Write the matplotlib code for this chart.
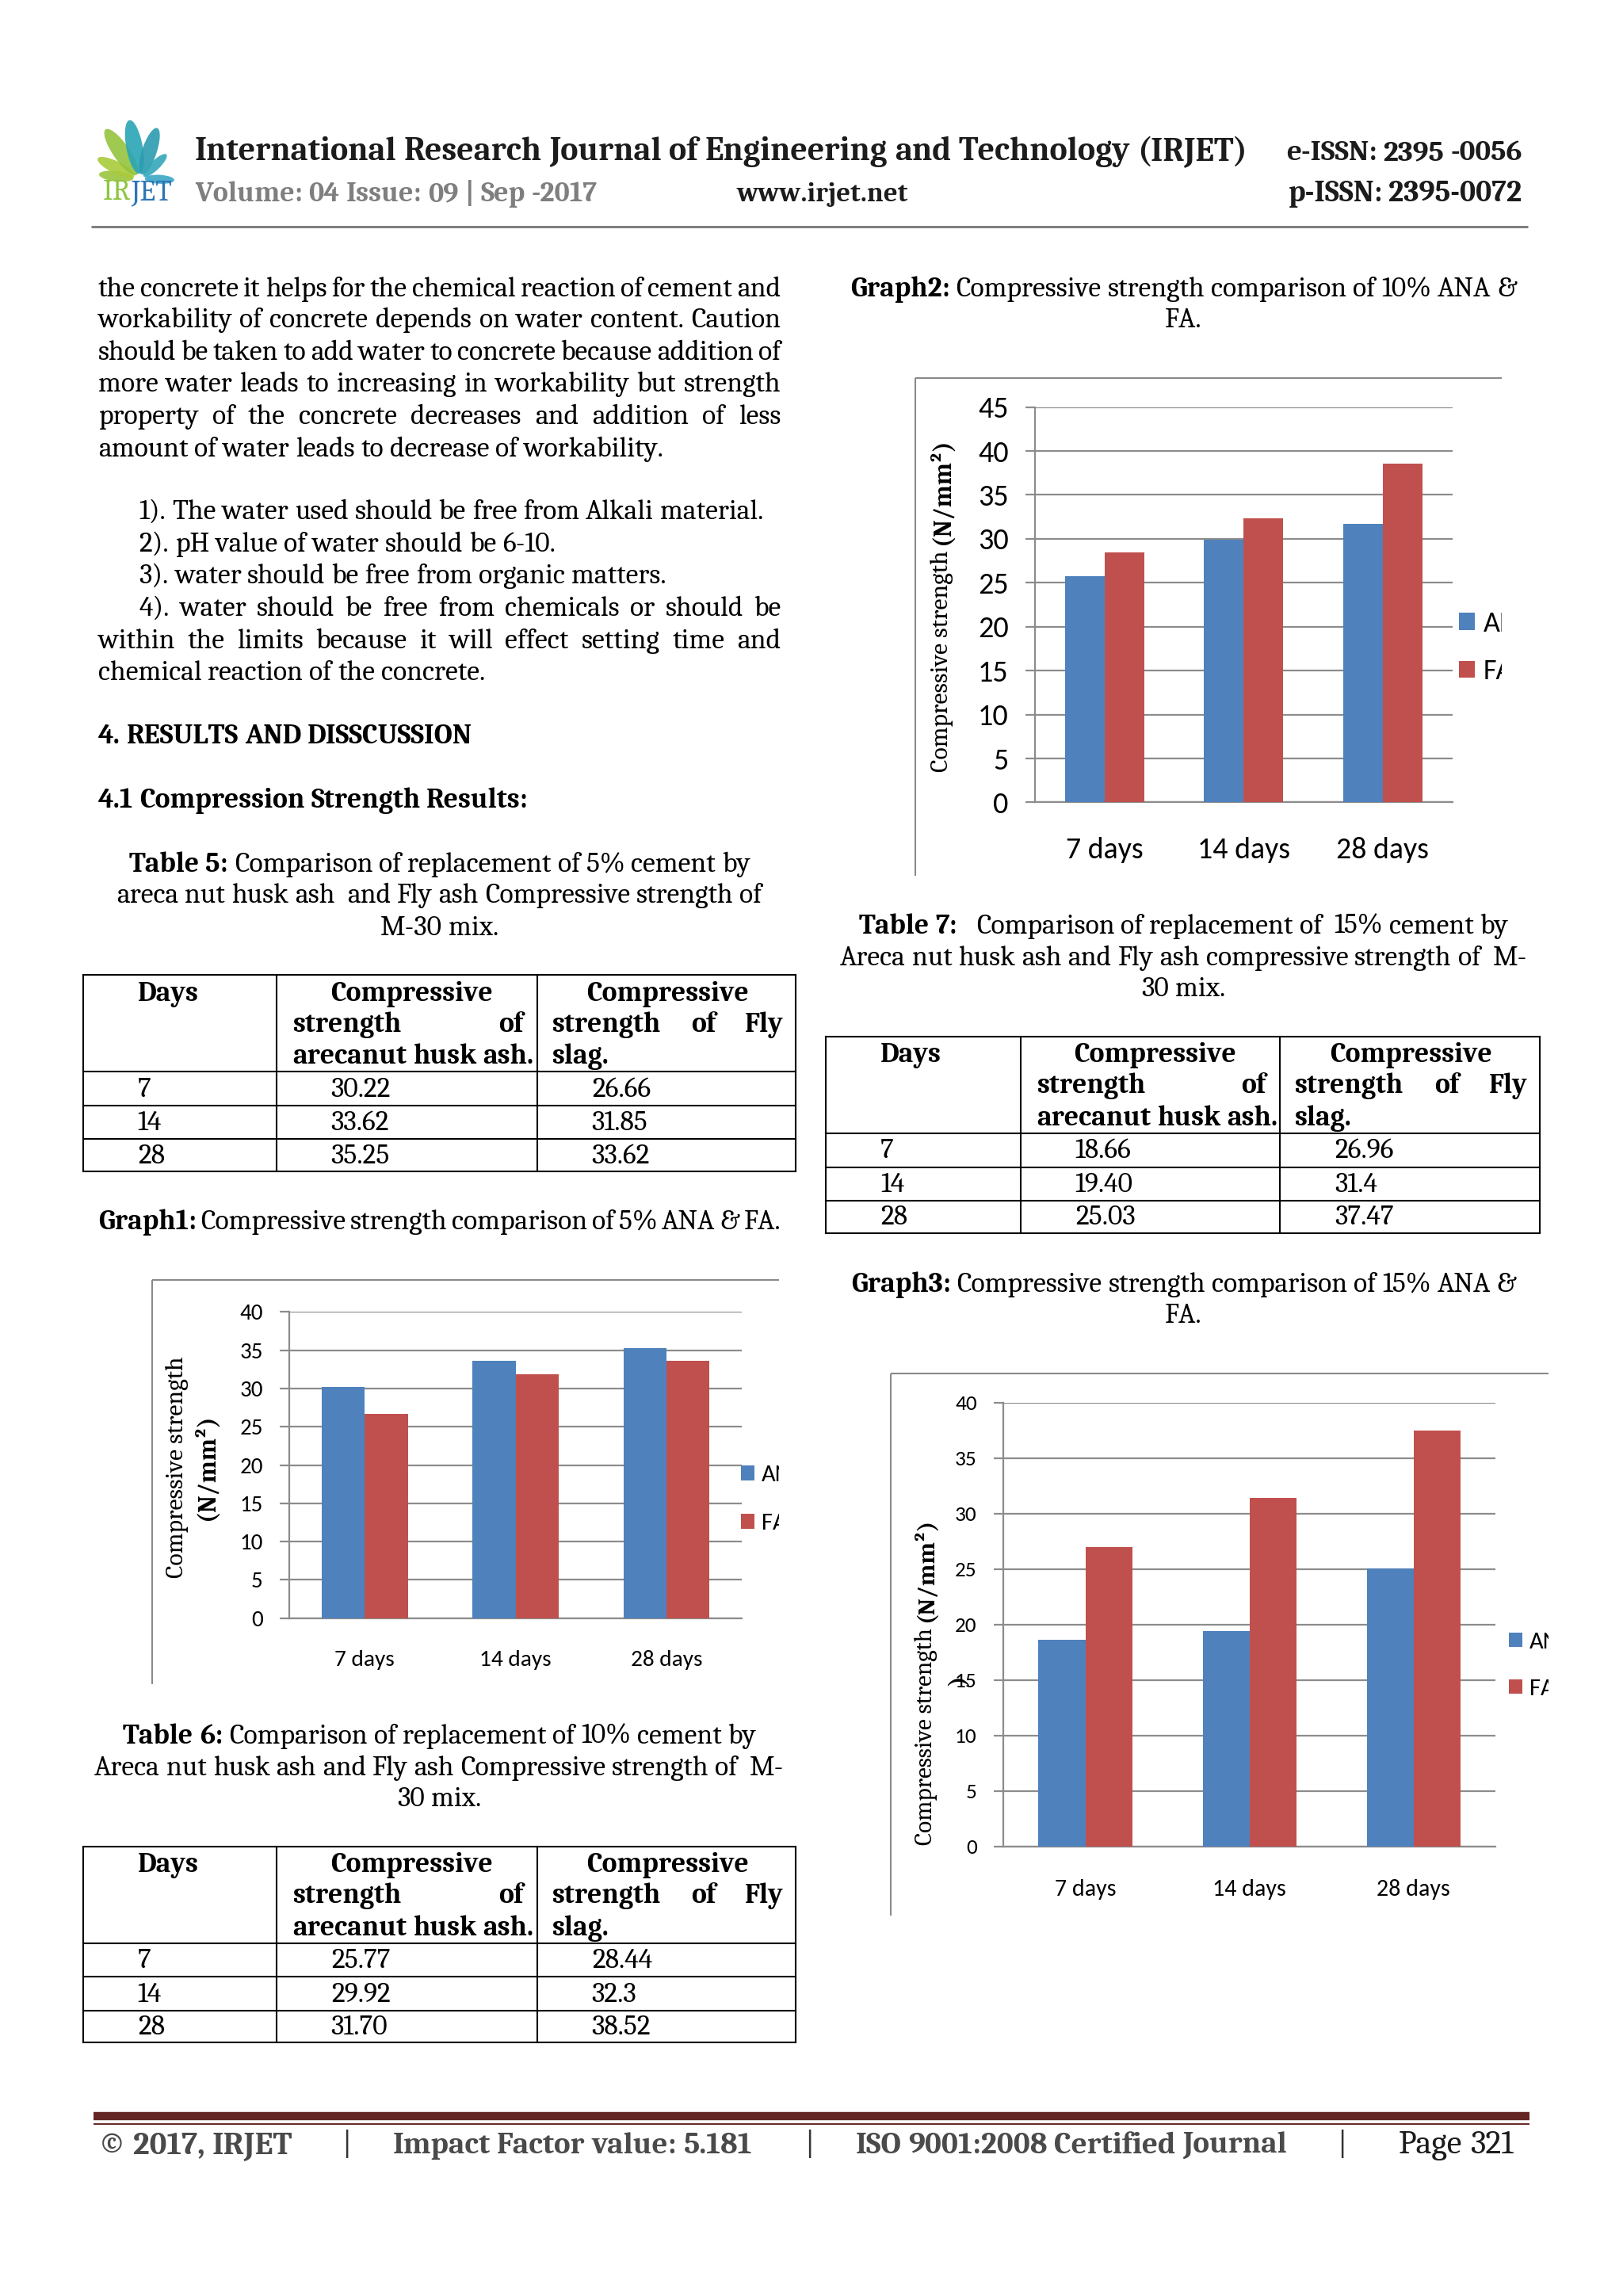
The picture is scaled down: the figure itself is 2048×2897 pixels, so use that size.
import numpy as np
import matplotlib
matplotlib.use("Agg")
import matplotlib.pyplot as plt
from matplotlib import font_manager
from matplotlib.patches import Ellipse
from matplotlib.transforms import Bbox

# ---------------- data ----------------
categories = ["7 days", "14 days", "28 days"]
series_names = ["ANA", "FA"]
table_days = ["7", "14", "28"]

t5_ana = ["30.22", "33.62", "35.25"]
t5_fa = ["26.66", "31.85", "33.62"]
t6_ana = ["25.77", "29.92", "31.70"]
t6_fa = ["28.44", "32.3", "38.52"]
t7_ana = ["18.66", "19.40", "25.03"]
t7_fa = ["26.96", "31.4", "37.47"]

g1_ticks = [0, 5, 10, 15, 20, 25, 30, 35, 40]
g2_ticks = [0, 5, 10, 15, 20, 25, 30, 35, 40, 45]
g3_ticks = [0, 5, 10, 15, 20, 25, 30, 35, 40]

BLUE = "#4F81BD"
RED = "#C0504D"
GRID = "#8C8C8C"

# ---------------- fonts ----------------
avail = {f.name for f in font_manager.fontManager.ttflist}
SERIF = next(f for f in ["Caladea", "Liberation Serif", "DejaVu Serif"] if f in avail)
SANS = next(f for f in ["Carlito", "Lato", "Open Sans", "DejaVu Sans"] if f in avail)
plt.rcParams["font.family"] = SANS

PW, PH = 1108.0, 1568.0
fig = plt.figure(figsize=(20.48, 28.97), dpi=100)
fig.patch.set_facecolor("white")
page = fig.add_axes([0, 0, 1, 1])
page.set_xlim(0, PW)
page.set_ylim(PH, 0)
page.axis("off")
R = fig.canvas.get_renderer()
SX = 2048.0 / PW

_cache = {}


def mw(s, size, weight="normal", family=None):
    family = family or SERIF
    key = (s, size, weight, family)
    if key not in _cache:
        t = page.text(0, 0, s, fontsize=size, fontweight=weight, family=family)
        _cache[key] = t.get_window_extent(renderer=R).width / SX
        t.remove()
    return _cache[key]


def space_w(size, weight, family):
    return mw("n n", size, weight, family) - mw("nn", size, weight, family)


def words_of(segs):
    out = []
    pending = 0
    for seg, wt in segs:
        for i, p in enumerate(seg.split(" ")):
            if i > 0:
                pending += 1
            if p == "":
                continue
            out.append((p, wt, pending if out else 0))
            pending = 0
    return out


def natural(segs, size, family=None):
    family = family or SERIF
    if isinstance(segs, str):
        segs = [(segs, "normal")]
    ws = words_of(segs)
    return sum(mw(w, size, wt, family) for w, wt, g in ws) + sum(g * space_w(size, wt, family) for w, wt, g in ws)


def fit(segs, target, family=None):
    return 10.0 * target / natural(segs, 10.0, family)


BO = 5.5  # baseline offset from visual line centre


def line(segs, y, x0, x1=None, mode="left", size=None, family=None, color="black", weight="normal"):
    if isinstance(segs, str):
        segs = [(segs, weight)]
    size = size or BODY
    family = family or SERIF
    ws = words_of(segs)
    widths = [mw(w, size, wt, family) for w, wt, g in ws]
    sps = [g * space_w(size, wt, family) for w, wt, g in ws]
    nat = sum(widths) + sum(sps)
    if mode == "justify" and sum(sps) > 0:
        k = (x1 - x0 - sum(widths)) / sum(sps)
        sps = [s * k for s in sps]
        start = x0
    elif mode == "center":
        start = x0 - nat / 2.0
    elif mode == "right":
        start = x1 - nat
    else:
        start = x0
    x = start
    for (w, wt, g), wd, sp in zip(ws, widths, sps):
        x += sp
        page.text(x, y + BO, w, fontsize=size, fontweight=wt, family=family, color=color,
                  ha="left", va="baseline")
        x += wd
    return start + nat


BODY = fit("amount of water leads to decrease of workability.", 387)

# ---------------- header ----------------
leaves = [((45, 240), (175, 255), "#9BC53D"), ((40, 180), (178, 248), "#A9CB3A"),
          ((70, 70), (188, 242), "#95C33E"), ((160, 35), (198, 238), "#2AA5B5"),
          ((265, 65), (206, 240), "#2B9CB0"), ((300, 165), (214, 248), "#33A6B9"),
          ((330, 262), (218, 256), "#3AA8C6")]
for (tz, bz, col) in leaves:
    tx, ty = (110 + tz[0] / 3.0) / SX, (140 + tz[1] / 3.0) / SX
    bx, by = (110 + bz[0] / 3.0) / SX, (140 + bz[1] / 3.0) / SX
    L = np.hypot(tx - bx, ty - by)
    ang = np.degrees(np.arctan2(ty - by, tx - bx))
    page.add_patch(Ellipse(((tx + bx) / 2, (ty + by) / 2), L, L * 0.3, angle=ang,
                           facecolor=col, edgecolor="none", alpha=0.9))
logo_size = fit("IRJET", 47)
xe = line([("IR", "normal")], 131, 70, size=logo_size, color="#8DC63F")
line([("JET", "normal")], 131, xe + 0.5, size=logo_size, color="#2E75B6")

TS = fit([("International Research Journal of Engineering and Technology (IRJET)", "bold")], 719)
line("International Research Journal of Engineering and Technology (IRJET)", 104, 133, size=TS,
     weight="bold", color="#1c1c1c")
HS = fit([("e-ISSN: 2395 -0056", "bold")], 162)
line("e-ISSN: 2395 -0056", 104, 878, size=HS, weight="bold", color="#1c1c1c")
VS = fit([("Volume: 04 Issue: 09 | Sep -2017", "bold")], 275)
line("Volume: 04 Issue: 09 | Sep -2017", 132, 133, size=VS, weight="bold", color="#7f7f7f")
line("www.irjet.net", 132, 503, size=fit([("www.irjet.net", "bold")], 117), weight="bold", color="#1c1c1c")
line("p-ISSN: 2395-0072", 132, 879, size=fit([("p-ISSN: 2395-0072", "bold")], 160), weight="bold",
     color="#1c1c1c")
page.plot([62, 1043], [155, 155], color="#808080", lw=2.2, solid_capstyle="butt")

# ---------------- left column text ----------------
LX0, LX1 = 67, 533
line("the concrete it helps for the chemical reaction of cement and", 197, LX0, LX1, "justify")
line("workability of concrete depends on water content. Caution", 218, LX0, LX1, "justify")
line("should be taken to add water to concrete because addition of", 240, LX0, LX1, "justify")
line("more water leads to increasing in workability but strength", 262, LX0, LX1, "justify")
line("property of the concrete decreases and addition of less", 284, LX0, LX1, "justify")
line("amount of water leads to decrease of workability.", 306, LX0)
line("1). The water used should be free from Alkali material.", 349, 95)
line("2). pH value of water should be 6-10.", 371, 95)
line("3). water should be free from organic matters.", 393, 95)
line("4). water should be free from chemicals or should be", 415, 95, LX1, "justify")
line("within the limits because it will effect setting time and", 437, LX0, LX1, "justify")
line("chemical reaction of the concrete.", 459, LX0)
line("4. RESULTS AND DISSCUSSION", 502, LX0, weight="bold")
line("4.1 Compression Strength Results:", 546, LX0, weight="bold")
line([("Table 5:", "bold"), (" Comparison of replacement of 5% cement by", "normal")], 590, 300, mode="center")
line("areca nut husk ash  and Fly ash Compressive strength of", 611, 300, mode="center")
line("M-30 mix.", 633, 300, mode="center")
line([("Graph1:", "bold"), (" Compressive strength comparison of 5% ANA & FA.", "normal")], 834, LX0, LX1,
     "justify")
line([("Table 6:", "bold"), (" Comparison of replacement of 10% cement by", "normal")], 1185, 300, mode="center")
line("Areca nut husk ash and Fly ash Compressive strength of  M-", 1207, 300, mode="center")
line("30 mix.", 1228, 300, mode="center")

# ---------------- right column text ----------------
RC = 808
line([("Graph2:", "bold"), (" Compressive strength comparison of 10% ANA &", "normal")], 197, RC, mode="center")
line("FA.", 218, RC, mode="center")
line([("Table 7:", "bold"), ("   Comparison of replacement of  15% cement by", "normal")], 632, RC, mode="center")
line("Areca nut husk ash and Fly ash compressive strength of  M-", 654, RC, mode="center")
line("30 mix.", 675, RC, mode="center")
line([("Graph3:", "bold"), (" Compressive strength comparison of 15% ANA &", "normal")], 877, RC, mode="center")
line("FA.", 898, RC, mode="center")


# ---------------- tables ----------------
def table(x0, c1, c2, x1, top, ana, fa):
    hb = top + 66
    rl = [hb, hb + 23, hb + 46, hb + 68]
    kw = dict(color="black", lw=1.5, solid_capstyle="projecting")
    for yy in [top] + rl:
        page.plot([x0, x1], [yy, yy], **kw)
    for xx in [x0, c1, c2, x1]:
        page.plot([xx, xx], [top, rl[-1]], **kw)
    line("Days", top + 12, x0 + 37, weight="bold")
    line("Compressive", top + 12, (c1 + c2) / 2 + 3, mode="center", weight="bold")
    line("strength of", top + 33, c1 + 11, c2 - 10, "justify", weight="bold")
    line("arecanut husk ash.", top + 55, c1 + 11, weight="bold")
    line("Compressive", top + 12, (c2 + x1) / 2 + 1, mode="center", weight="bold")
    line("strength of Fly", top + 33, c2 + 10, x1 - 8, "justify", weight="bold")
    line("slag.", top + 55, c2 + 10, weight="bold")
    for i in range(len(table_days)):
        yc = (rl[i] + rl[i + 1]) / 2.0
        line(table_days[i], yc, x0 + 37)
        line(ana[i], yc, c1 + 37)
        line(fa[i], yc, c2 + 37)


table(57, 189, 367, 543, 666, t5_ana, t5_fa)
table(57, 189, 367, 543, 1261, t6_ana, t6_fa)
table(564, 697, 874, 1051, 708, t7_ana, t7_fa)


# ---------------- charts ----------------
def frame(x0, x1, y0, y1):
    kw = dict(color="#8a8a8a", lw=1.5, solid_capstyle="butt")
    page.plot([x0, x1], [y0, y0], **kw)
    page.plot([x0, x0], [y0, y1], **kw)


def chart(l, r, y0, yt, ticks, ana, fa, tick_w, xl_w, xpad, leg_x, leg_y1, leg_pitch, leg_fs, clip_x):
    ax = fig.add_axes([l / PW, 1 - y0 / PH, (r - l) / PW, (y0 - yt) / PH])
    ax.patch.set_visible(False)
    x = np.arange(len(categories))
    w = 1 / 3.5
    b1 = ax.bar(x - w / 2, [float(v) for v in ana], w, color=BLUE, zorder=3)
    b2 = ax.bar(x + w / 2, [float(v) for v in fa], w, color=RED, zorder=3)
    ax.set_xlim(-0.5, len(categories) - 0.5)
    ax.set_ylim(0, ticks[-1])
    ax.set_yticks(ticks)
    ax.set_xticks(x)
    ax.set_xticklabels(categories)
    ax.yaxis.grid(True, color=GRID, lw=1.6, zorder=0)
    ax.set_axisbelow(True)
    for s in ["top", "right"]:
        ax.spines[s].set_visible(False)
    for s in ["left", "bottom"]:
        ax.spines[s].set_color(GRID)
        ax.spines[s].set_linewidth(1.6)
    tfs = fit(str(ticks[-1]), tick_w, SANS)
    xfs = fit(categories[0], xl_w, SANS)
    ax.tick_params(axis="y", length=9, width=1.6, color=GRID, labelsize=tfs, pad=15, labelcolor="black")
    ax.tick_params(axis="x", length=0, labelsize=xfs, pad=xpad, labelcolor="black")
    fs_sh = leg_fs * (100 / 72.0) / SX
    ls = max(leg_pitch / fs_sh - 0.85, 0.05)
    leg = ax.legend(handles=[b1, b2], labels=series_names, loc="upper left",
                    bbox_to_anchor=(leg_x, leg_y1 - 0.4 * fs_sh), bbox_transform=page.transData,
                    frameon=False, borderpad=0, borderaxespad=0, handlelength=0.55, handleheight=0.55,
                    handletextpad=0.3, labelspacing=ls, prop={"family": SANS, "size": leg_fs})
    clip = Bbox.from_extents(0, 0, clip_x * SX, 2897)
    for t in leg.get_texts():
        t.set_clip_box(clip)
        t.set_clip_on(True)
    return ax


# Graph 1 (5%)
frame(104, 532, 874, 1150)
chart(197.5, 506.5, 1105, 896, g1_ticks, t5_ana, t5_fa, 16, 41, 29, 506, 1007, 33, 22, 532)
s1 = fit("Compressive strength", 151)
page.text(121, 1002, "Compressive strength", rotation=90, ha="center", va="center", fontsize=s1, family=SERIF)
page.text(141, 1002, "(N/mm\u00b2)", rotation=90, ha="center", va="center", fontsize=s1, family=SERIF,
          fontweight="bold")

# Graph 2 (10%)
frame(625, 1025, 258, 598)
chart(706.5, 991.5, 548, 278, g2_ticks, t6_ana, t6_fa, 21, 53, 31, 996, 425, 32, 26, 1025)


def ylab(xc, ybottom, total):
    s = fit([("Compressive strength", "normal"), (" (N/mm\u00b2)", "bold")], total)
    wr = natural("Compressive strength", s)
    sp = space_w(s, "normal", SERIF)
    wb = natural([("(N/mm\u00b2)", "bold")], s)
    page.text(xc, ybottom - wr / 2, "Compressive strength", rotation=90, ha="center", va="center",
              fontsize=s, family=SERIF)
    page.text(xc, ybottom - wr - sp - wb / 2, "(N/mm\u00b2)", rotation=90, ha="center", va="center",
              fontsize=s, family=SERIF, fontweight="bold")
    return s


ylab(643, 527, 227)

# Graph 3 (15%)
frame(608, 1057, 938, 1308)
chart(685, 1021, 1261, 958, g3_ticks, t7_ana, t7_fa, 15, 42, 30, 1030, 1121, 32, 22, 1057)
s3 = ylab(632, 1260, 223)
page.text(655, 1148, ")", rotation=90, ha="center", va="center", fontsize=s3, family=SERIF, fontweight="bold")

# ---------------- footer ----------------
page.plot([64, 1044], [1445, 1445], color="#632523", lw=7.5, solid_capstyle="butt")
page.plot([64, 1044], [1450.8, 1450.8], color="#632523", lw=1.4, solid_capstyle="butt")
FC = "#4a4a4a"
line("\u00a9 2017, IRJET", 1465, 67, size=fit([("\u00a9 2017, IRJET", "bold")], 132), weight="bold", color=FC)
FS = fit([("Impact Factor value: 5.181", "bold")], 246)
line("Impact Factor value: 5.181", 1465, 268, size=FS, weight="bold", color=FC)
line("ISO 9001:2008 Certified Journal", 1465, 584, size=fit([("ISO 9001:2008 Certified Journal", "bold")], 296),
     weight="bold", color=FC)
line("Page 321", 1465, 955, size=fit([("Page 321", "normal")], 78), color="#1c1c1c")
for xp in [233, 549, 913]:
    line("|", 1465, xp, size=FS, color="#333333")

fig.savefig("out.png", dpi=100)
